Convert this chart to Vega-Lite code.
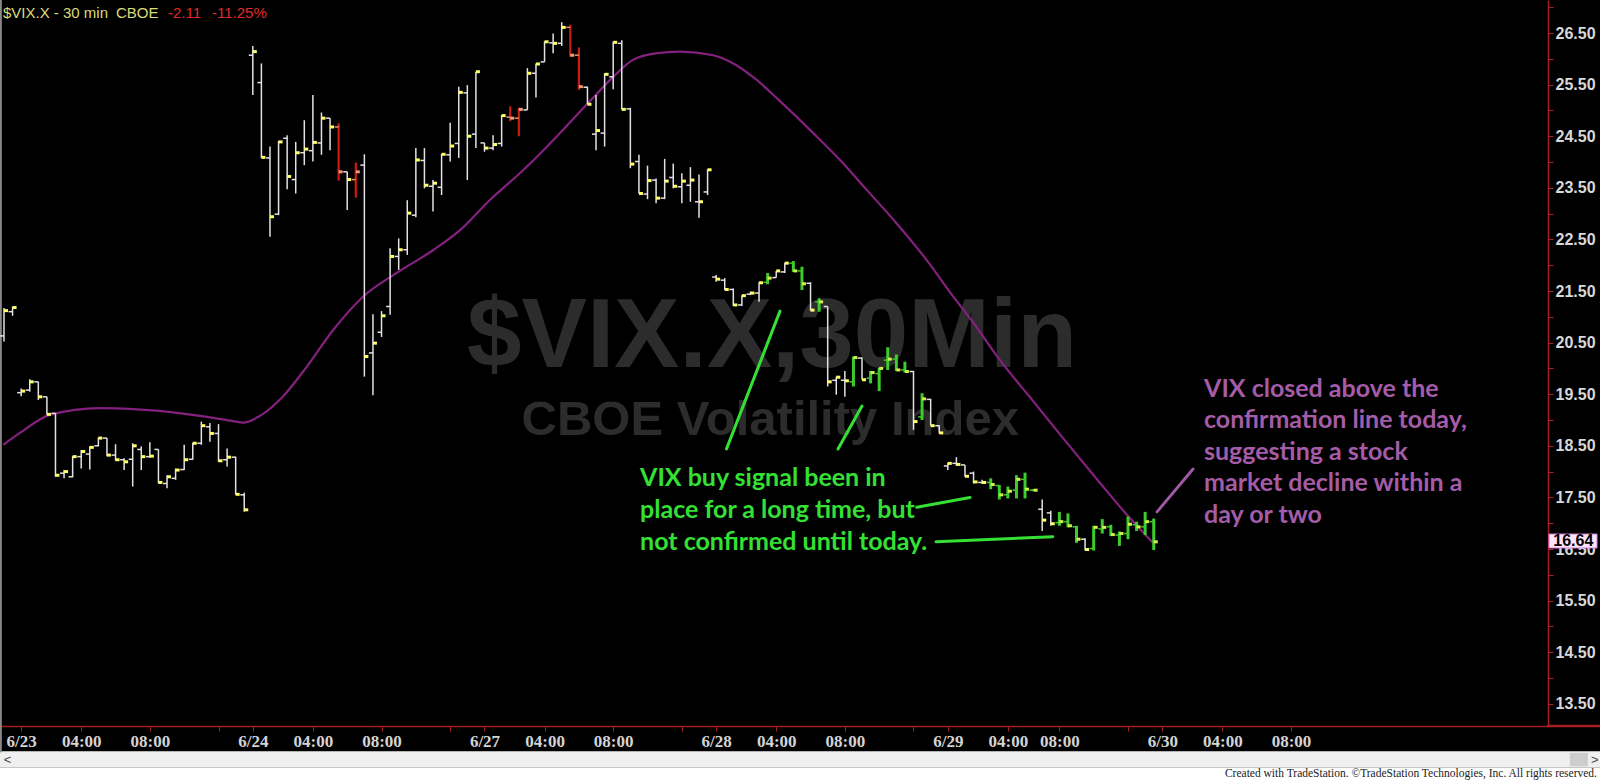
{
  "$schema": "https://vega.github.io/schema/vega-lite/v6.json",
  "width": 1548,
  "height": 726,
  "autosize": "none",
  "padding": {"left": 0, "top": 0, "right": 52, "bottom": 54},
  "background": "#000000",
  "config": {"view": {"stroke": null}},
  "datasets": {
    "bars": [
      {"i":1,"o":20.63,"h":21.17,"l":20.52,"c":21.12,"t":"n"},
      {"i":2,"o":21.10,"h":21.20,"l":21.02,"c":21.18,"t":"n"},
      {"i":3,"o":19.53,"h":19.61,"l":19.46,"c":19.56,"t":"n"},
      {"i":4,"o":19.58,"h":19.79,"l":19.55,"c":19.74,"t":"n"},
      {"i":5,"o":19.74,"h":19.74,"l":19.39,"c":19.45,"t":"n"},
      {"i":6,"o":19.45,"h":19.45,"l":19.10,"c":19.11,"t":"n"},
      {"i":7,"o":19.13,"h":19.13,"l":17.90,"c":17.93,"t":"n"},
      {"i":8,"o":17.97,"h":18.03,"l":17.87,"c":18.00,"t":"n"},
      {"i":9,"o":17.90,"h":18.30,"l":17.89,"c":18.29,"t":"n"},
      {"i":10,"o":18.29,"h":18.42,"l":18.06,"c":18.39,"t":"n"},
      {"i":11,"o":18.34,"h":18.49,"l":18.04,"c":18.47,"t":"n"},
      {"i":12,"o":18.50,"h":18.66,"l":18.49,"c":18.65,"t":"n"},
      {"i":13,"o":18.65,"h":18.65,"l":18.30,"c":18.32,"t":"n"},
      {"i":14,"o":18.32,"h":18.53,"l":18.21,"c":18.23,"t":"n"},
      {"i":15,"o":18.23,"h":18.26,"l":18.03,"c":18.19,"t":"n"},
      {"i":16,"o":18.24,"h":18.55,"l":17.71,"c":18.50,"t":"n"},
      {"i":17,"o":18.43,"h":18.49,"l":18.03,"c":18.29,"t":"n"},
      {"i":18,"o":18.29,"h":18.57,"l":18.27,"c":18.30,"t":"n"},
      {"i":19,"o":18.43,"h":18.43,"l":17.77,"c":17.79,"t":"n"},
      {"i":20,"o":17.77,"h":17.93,"l":17.68,"c":17.90,"t":"n"},
      {"i":21,"o":17.87,"h":18.06,"l":17.84,"c":18.03,"t":"n"},
      {"i":22,"o":18.04,"h":18.52,"l":18.03,"c":18.23,"t":"n"},
      {"i":23,"o":18.24,"h":18.56,"l":18.23,"c":18.55,"t":"n"},
      {"i":24,"o":18.55,"h":18.97,"l":18.52,"c":18.89,"t":"n"},
      {"i":25,"o":18.87,"h":18.94,"l":18.58,"c":18.74,"t":"n"},
      {"i":26,"o":18.74,"h":18.92,"l":18.19,"c":18.21,"t":"n"},
      {"i":27,"o":18.23,"h":18.45,"l":18.10,"c":18.28,"t":"n"},
      {"i":28,"o":18.28,"h":18.29,"l":17.55,"c":17.56,"t":"n"},
      {"i":29,"o":17.55,"h":17.59,"l":17.22,"c":17.26,"t":"n"},
      {"i":30,"o":26.07,"h":26.25,"l":25.30,"c":26.14,"t":"n"},
      {"i":31,"o":25.54,"h":25.91,"l":24.08,"c":24.09,"t":"n"},
      {"i":32,"o":24.08,"h":24.30,"l":22.55,"c":22.94,"t":"n"},
      {"i":33,"o":22.99,"h":24.41,"l":22.97,"c":24.39,"t":"n"},
      {"i":34,"o":24.46,"h":24.52,"l":23.47,"c":23.72,"t":"n"},
      {"i":35,"o":23.66,"h":24.39,"l":23.39,"c":24.18,"t":"n"},
      {"i":36,"o":24.18,"h":24.81,"l":23.94,"c":24.25,"t":"n"},
      {"i":37,"o":24.22,"h":25.30,"l":24.01,"c":24.38,"t":"n"},
      {"i":38,"o":24.37,"h":24.96,"l":24.14,"c":24.85,"t":"n"},
      {"i":39,"o":24.85,"h":24.85,"l":24.23,"c":24.68,"t":"n"},
      {"i":40,"o":24.68,"h":24.75,"l":23.64,"c":23.81,"t":"r"},
      {"i":41,"o":23.81,"h":23.81,"l":23.07,"c":23.66,"t":"n"},
      {"i":42,"o":23.66,"h":23.99,"l":23.31,"c":23.81,"t":"r"},
      {"i":43,"o":23.94,"h":24.15,"l":19.84,"c":20.23,"t":"n"},
      {"i":44,"o":20.30,"h":21.05,"l":19.48,"c":20.49,"t":"n"},
      {"i":45,"o":20.70,"h":21.11,"l":20.61,"c":21.02,"t":"n"},
      {"i":46,"o":21.20,"h":22.33,"l":21.04,"c":22.17,"t":"n"},
      {"i":47,"o":22.17,"h":22.52,"l":21.91,"c":22.30,"t":"n"},
      {"i":48,"o":22.30,"h":23.26,"l":22.20,"c":23.01,"t":"n"},
      {"i":49,"o":22.97,"h":24.27,"l":22.93,"c":24.04,"t":"n"},
      {"i":50,"o":24.03,"h":24.27,"l":23.49,"c":23.55,"t":"n"},
      {"i":51,"o":23.53,"h":23.65,"l":23.04,"c":23.59,"t":"n"},
      {"i":52,"o":23.51,"h":24.16,"l":23.36,"c":24.15,"t":"n"},
      {"i":53,"o":24.14,"h":24.76,"l":24.01,"c":24.31,"t":"n"},
      {"i":54,"o":24.36,"h":25.46,"l":24.08,"c":25.35,"t":"n"},
      {"i":55,"o":25.34,"h":25.49,"l":23.65,"c":24.50,"t":"n"},
      {"i":56,"o":24.54,"h":25.75,"l":24.27,"c":25.75,"t":"n"},
      {"i":57,"o":24.37,"h":24.37,"l":24.20,"c":24.27,"t":"n"},
      {"i":58,"o":24.27,"h":24.52,"l":24.23,"c":24.34,"t":"n"},
      {"i":59,"o":24.36,"h":24.91,"l":24.30,"c":24.90,"t":"n"},
      {"i":60,"o":24.87,"h":25.08,"l":24.79,"c":24.85,"t":"r"},
      {"i":61,"o":24.85,"h":25.05,"l":24.50,"c":25.02,"t":"r"},
      {"i":62,"o":25.01,"h":25.82,"l":25.01,"c":25.72,"t":"n"},
      {"i":63,"o":25.72,"h":25.91,"l":25.25,"c":25.90,"t":"n"},
      {"i":64,"o":25.94,"h":26.34,"l":25.94,"c":26.33,"t":"n"},
      {"i":65,"o":26.31,"h":26.49,"l":26.11,"c":26.30,"t":"n"},
      {"i":66,"o":26.30,"h":26.71,"l":26.25,"c":26.61,"t":"n"},
      {"i":67,"o":26.61,"h":26.66,"l":26.04,"c":26.07,"t":"r"},
      {"i":68,"o":26.07,"h":26.22,"l":25.40,"c":25.46,"t":"r"},
      {"i":69,"o":25.45,"h":25.46,"l":25.12,"c":25.12,"t":"n"},
      {"i":70,"o":24.54,"h":25.30,"l":24.23,"c":24.61,"t":"n"},
      {"i":71,"o":24.56,"h":25.72,"l":24.30,"c":25.70,"t":"n"},
      {"i":72,"o":25.65,"h":26.33,"l":25.41,"c":26.32,"t":"n"},
      {"i":73,"o":26.30,"h":26.36,"l":25.02,"c":25.02,"t":"n"},
      {"i":74,"o":25.03,"h":25.05,"l":23.88,"c":23.96,"t":"n"},
      {"i":75,"o":24.01,"h":24.14,"l":23.39,"c":23.39,"t":"n"},
      {"i":76,"o":23.38,"h":23.93,"l":23.28,"c":23.64,"t":"n"},
      {"i":77,"o":23.65,"h":23.68,"l":23.20,"c":23.30,"t":"n"},
      {"i":78,"o":23.30,"h":24.06,"l":23.28,"c":23.63,"t":"n"},
      {"i":79,"o":23.70,"h":23.97,"l":23.49,"c":23.53,"t":"n"},
      {"i":80,"o":23.52,"h":23.78,"l":23.20,"c":23.63,"t":"n"},
      {"i":81,"o":23.55,"h":23.90,"l":23.23,"c":23.65,"t":"n"},
      {"i":82,"o":23.23,"h":23.76,"l":22.92,"c":23.23,"t":"n"},
      {"i":83,"o":23.42,"h":23.86,"l":23.36,"c":23.85,"t":"n"},
      {"i":84,"o":21.77,"h":21.81,"l":21.68,"c":21.73,"t":"n"},
      {"i":85,"o":21.71,"h":21.75,"l":21.52,"c":21.53,"t":"n"},
      {"i":86,"o":21.53,"h":21.55,"l":21.21,"c":21.23,"t":"n"},
      {"i":87,"o":21.23,"h":21.42,"l":21.21,"c":21.41,"t":"n"},
      {"i":88,"o":21.44,"h":21.49,"l":21.42,"c":21.46,"t":"n"},
      {"i":89,"o":21.46,"h":21.67,"l":21.29,"c":21.66,"t":"n"},
      {"i":90,"o":21.67,"h":21.85,"l":21.63,"c":21.75,"t":"g"},
      {"i":91,"o":21.76,"h":21.89,"l":21.76,"c":21.89,"t":"n"},
      {"i":92,"o":21.87,"h":22.05,"l":21.85,"c":22.04,"t":"n"},
      {"i":93,"o":22.04,"h":22.08,"l":21.87,"c":21.89,"t":"g"},
      {"i":94,"o":21.89,"h":21.97,"l":21.52,"c":21.64,"t":"g"},
      {"i":95,"o":21.65,"h":21.67,"l":21.12,"c":21.13,"t":"n"},
      {"i":96,"o":21.29,"h":21.36,"l":21.10,"c":21.29,"t":"g"},
      {"i":97,"o":21.20,"h":21.20,"l":19.65,"c":19.74,"t":"n"},
      {"i":98,"o":19.77,"h":19.84,"l":19.49,"c":19.83,"t":"n"},
      {"i":99,"o":19.77,"h":19.95,"l":19.45,"c":19.76,"t":"n"},
      {"i":100,"o":19.74,"h":20.23,"l":19.65,"c":20.21,"t":"g"},
      {"i":101,"o":20.20,"h":20.21,"l":19.78,"c":19.78,"t":"n"},
      {"i":102,"o":19.81,"h":19.95,"l":19.71,"c":19.92,"t":"g"},
      {"i":103,"o":19.90,"h":20.01,"l":19.56,"c":20.00,"t":"g"},
      {"i":104,"o":20.16,"h":20.41,"l":19.97,"c":20.18,"t":"g"},
      {"i":105,"o":20.18,"h":20.27,"l":19.95,"c":19.97,"t":"g"},
      {"i":106,"o":19.97,"h":20.13,"l":19.92,"c":19.94,"t":"g"},
      {"i":107,"o":19.94,"h":19.95,"l":18.81,"c":18.97,"t":"n"},
      {"i":108,"o":19.06,"h":19.52,"l":19.00,"c":19.41,"t":"g"},
      {"i":109,"o":19.40,"h":19.41,"l":18.89,"c":18.89,"t":"n"},
      {"i":110,"o":18.89,"h":18.90,"l":18.74,"c":18.75,"t":"n"},
      {"i":111,"o":18.11,"h":18.17,"l":18.03,"c":18.16,"t":"n"},
      {"i":112,"o":18.16,"h":18.28,"l":18.11,"c":18.14,"t":"n"},
      {"i":113,"o":18.13,"h":18.13,"l":17.90,"c":17.91,"t":"n"},
      {"i":114,"o":17.97,"h":18.00,"l":17.77,"c":17.80,"t":"n"},
      {"i":115,"o":17.79,"h":17.84,"l":17.76,"c":17.79,"t":"n"},
      {"i":116,"o":17.79,"h":17.87,"l":17.66,"c":17.75,"t":"g"},
      {"i":117,"o":17.73,"h":17.74,"l":17.46,"c":17.55,"t":"g"},
      {"i":118,"o":17.55,"h":17.71,"l":17.48,"c":17.62,"t":"g"},
      {"i":119,"o":17.64,"h":17.93,"l":17.48,"c":17.85,"t":"g"},
      {"i":120,"o":17.85,"h":17.98,"l":17.48,"c":17.66,"t":"g"},
      {"i":121,"o":17.64,"h":17.66,"l":17.62,"c":17.64,"t":"g"},
      {"i":122,"o":17.27,"h":17.46,"l":16.85,"c":17.06,"t":"n"},
      {"i":123,"o":17.20,"h":17.24,"l":16.95,"c":16.99,"t":"n"},
      {"i":124,"o":17.01,"h":17.22,"l":16.95,"c":17.03,"t":"g"},
      {"i":125,"o":17.03,"h":17.19,"l":16.92,"c":16.95,"t":"g"},
      {"i":126,"o":16.93,"h":16.95,"l":16.62,"c":16.69,"t":"g"},
      {"i":127,"o":16.69,"h":16.71,"l":16.47,"c":16.49,"t":"n"},
      {"i":128,"o":16.51,"h":16.95,"l":16.47,"c":16.92,"t":"g"},
      {"i":129,"o":16.89,"h":17.08,"l":16.80,"c":16.92,"t":"g"},
      {"i":130,"o":16.93,"h":16.97,"l":16.75,"c":16.78,"t":"g"},
      {"i":131,"o":16.77,"h":16.84,"l":16.56,"c":16.80,"t":"g"},
      {"i":132,"o":16.80,"h":17.13,"l":16.69,"c":16.98,"t":"g"},
      {"i":133,"o":16.97,"h":17.03,"l":16.85,"c":16.93,"t":"g"},
      {"i":134,"o":16.93,"h":17.22,"l":16.77,"c":17.03,"t":"g"},
      {"i":135,"o":17.03,"h":17.09,"l":16.48,"c":16.64,"t":"g"}
    ],
    "ma": [
      {"i":0.92,"v":18.52},{"i":2.86,"v":18.75},{"i":6.36,"v":19.10},{"i":12.19,"v":19.23},
      {"i":16.03,"v":19.21},{"i":21.16,"v":19.14},{"i":23.84,"v":19.08},{"i":27.69,"v":18.98},
      {"i":28.86,"v":18.95},{"i":30.84,"v":19.08},{"i":33.37,"v":19.43},{"i":36.28,"v":20.03},
      {"i":39.34,"v":20.74},{"i":42.84,"v":21.39},{"i":46.77,"v":21.85},{"i":51.0,"v":22.29},
      {"i":54.15,"v":22.68},{"i":57.6,"v":23.26},{"i":61.5,"v":23.84},{"i":65.4,"v":24.49},
      {"i":69.4,"v":25.20},{"i":72.0,"v":25.65},{"i":74.3,"v":25.98},{"i":77.1,"v":26.11},
      {"i":79.79,"v":26.14},{"i":83.67,"v":26.07},{"i":86.0,"v":25.91},{"i":88.73,"v":25.59},
      {"i":91.44,"v":25.18},{"i":95.32,"v":24.56},{"i":98.44,"v":24.04},{"i":101.55,"v":23.46},
      {"i":105.04,"v":22.81},{"i":108.54,"v":22.10},{"i":111.64,"v":21.39},{"i":114.0,"v":20.88},
      {"i":117.08,"v":20.16},{"i":120.58,"v":19.44},{"i":124.43,"v":18.65},
      {"i":128.74,"v":17.78},{"i":131.89,"v":17.16},{"i":134.92,"v":16.62}
    ],
    "seg": [
      {"i":85.21,"v":18.44,"i2":91.44,"v2":21.11,"k":"g"},
      {"i":98.2,"v":18.44,"i2":101.0,"v2":19.27,"k":"g"},
      {"i":107.38,"v":17.31,"i2":113.59,"v2":17.50,"k":"g"},
      {"i":109.62,"v":16.64,"i2":123.23,"v2":16.74,"k":"g"},
      {"i":135.38,"v":17.22,"i2":139.58,"v2":18.05,"k":"p"},
      {"i":180.95,"v":13.07,"i2":187.5,"v2":13.07,"k":"r"},
      {"i":0.6,"v":12.58,"i2":0.6,"v2":27.14,"k":"b"}
    ],
    "band": [
      {"i":-2,"v":12.26,"i2":190,"v2":12.58,"k":"s"},
      {"i":-2,"v":11.9,"i2":190,"v2":12.26,"k":"w"},
      {"i":183.5,"v":12.29,"i2":185.6,"v2":12.55,"k":"t"}
    ],
    "box": [
      {"i":181.07,"v":16.52,"i2":186.66,"v2":16.79}
    ]
  },
  "encoding": {
    "x": {
      "field": "i",
      "type": "quantitative",
      "scale": {"domain": [0.534, 180.95], "nice": false, "zero": false},
      "axis": {
        "values": [3,10,18,26,30,37,45,53,57,64,72,80,84,91,99,107,111,118,124,132,136,143,151],
        "labelExpr": "['6/23','04:00','08:00','','6/24','04:00','08:00','','6/27','04:00','08:00','','6/28','04:00','08:00','','6/29','04:00','08:00','','6/30','04:00','08:00'][indexof([3,10,18,26,30,37,45,53,57,64,72,80,84,91,99,107,111,118,124,132,136,143,151], datum.value)]",
        "title": null,
        "grid": false,
        "domainColor": "#a81e1e",
        "domainWidth": 1.5,
        "tickColor": "#a81e1e",
        "tickSize": 5,
        "labelColor": "#d4d4d4",
        "labelFont": "Liberation Sans Narrow",
        "labelFontSize": 17,
        "labelFontWeight": "bold",
        "labelPadding": 2,
        "labelFlush": false,
        "labelOverlap": false
      }
    }
  },
  "resolve": {"scale": {"color": "independent", "strokeWidth": "independent"}},
  "layer": [
    {
      "data": {"name": "band"},
      "mark": {"type": "rect"},
      "encoding": {
        "x2": {"field": "i2"},
        "y": {"field": "v", "type": "quantitative", "scale": {"domain": [13.07, 27.14], "nice": false, "zero": false},
          "axis": {"orient": "right", "values": [13.5,14,14.5,15,15.5,16,16.5,17,17.5,18,18.5,19,19.5,20,20.5,21,21.5,22,22.5,23,23.5,24,24.5,25,25.5,26,26.5,27], "labelExpr": "indexof([13.5,14.5,15.5,16.5,17.5,18.5,19.5,20.5,21.5,22.5,23.5,24.5,25.5,26.5], datum.value) >= 0 ? format(datum.value, '.2f') : ''", "title": null, "grid": false, "domainColor": "#a81e1e", "domainWidth": 1.5, "tickColor": "#a81e1e", "tickSize": 5, "labelColor": "#d8d8d8", "labelFont": "Liberation Sans", "labelFontSize": 16, "labelFontWeight": "bold", "labelPadding": 2, "labelFlush": false, "labelOverlap": false}},
        "y2": {"field": "v2"},
        "color": {"field": "k", "type": "nominal", "scale": {"domain": ["s","w","t"], "range": ["#efefef","#ffffff","#cdcdcd"]}, "legend": null}
      }
    },
    {
      "data": {"values": [{"i":90.51,"v":20.03,"s":"$VIX.X,30Min"}]},
      "mark": {"type": "text", "align": "center", "baseline": "alphabetic", "font": "Liberation Sans", "fontSize": 98, "fontWeight": "bold", "color": "#2c2c2c"},
      "encoding": {
        "y": {"field": "v", "type": "quantitative", "scale": {"domain": [13.07, 27.14], "nice": false, "zero": false},
          "axis": {"orient": "right", "values": [13.5,14,14.5,15,15.5,16,16.5,17,17.5,18,18.5,19,19.5,20,20.5,21,21.5,22,22.5,23,23.5,24,24.5,25,25.5,26,26.5,27], "labelExpr": "indexof([13.5,14.5,15.5,16.5,17.5,18.5,19.5,20.5,21.5,22.5,23.5,24.5,25.5,26.5], datum.value) >= 0 ? format(datum.value, '.2f') : ''", "title": null, "grid": false, "domainColor": "#a81e1e", "domainWidth": 1.5, "tickColor": "#a81e1e", "tickSize": 5, "labelColor": "#d8d8d8", "labelFont": "Liberation Sans", "labelFontSize": 16, "labelFontWeight": "bold", "labelPadding": 2, "labelFlush": false, "labelOverlap": false}},
        "text": {"field": "s"}
      }
    },
    {
      "data": {"values": [{"i":90.3,"v":18.71,"s":"CBOE Volatility Index"}]},
      "mark": {"type": "text", "align": "center", "baseline": "alphabetic", "font": "Liberation Sans", "fontSize": 49, "fontWeight": "bold", "color": "#2c2c2c"},
      "encoding": {
        "y": {"field": "v", "type": "quantitative", "scale": {"domain": [13.07, 27.14], "nice": false, "zero": false},
          "axis": {"orient": "right", "values": [13.5,14,14.5,15,15.5,16,16.5,17,17.5,18,18.5,19,19.5,20,20.5,21,21.5,22,22.5,23,23.5,24,24.5,25,25.5,26,26.5,27], "labelExpr": "indexof([13.5,14.5,15.5,16.5,17.5,18.5,19.5,20.5,21.5,22.5,23.5,24.5,25.5,26.5], datum.value) >= 0 ? format(datum.value, '.2f') : ''", "title": null, "grid": false, "domainColor": "#a81e1e", "domainWidth": 1.5, "tickColor": "#a81e1e", "tickSize": 5, "labelColor": "#d8d8d8", "labelFont": "Liberation Sans", "labelFontSize": 16, "labelFontWeight": "bold", "labelPadding": 2, "labelFlush": false, "labelOverlap": false}},
        "text": {"field": "s"}
      }
    },
    {
      "data": {"name": "ma"},
      "mark": {"type": "line", "color": "#84207f", "strokeWidth": 2.2, "interpolate": "monotone"},
      "encoding": {
        "y": {"field": "v", "type": "quantitative", "scale": {"domain": [13.07, 27.14], "nice": false, "zero": false},
          "axis": {"orient": "right", "values": [13.5,14,14.5,15,15.5,16,16.5,17,17.5,18,18.5,19,19.5,20,20.5,21,21.5,22,22.5,23,23.5,24,24.5,25,25.5,26,26.5,27], "labelExpr": "indexof([13.5,14.5,15.5,16.5,17.5,18.5,19.5,20.5,21.5,22.5,23.5,24.5,25.5,26.5], datum.value) >= 0 ? format(datum.value, '.2f') : ''", "title": null, "grid": false, "domainColor": "#a81e1e", "domainWidth": 1.5, "tickColor": "#a81e1e", "tickSize": 5, "labelColor": "#d8d8d8", "labelFont": "Liberation Sans", "labelFontSize": 16, "labelFontWeight": "bold", "labelPadding": 2, "labelFlush": false, "labelOverlap": false}}
      }
    },
    {
      "data": {"name": "seg"},
      "mark": {"type": "rule", "strokeCap": "round"},
      "encoding": {
        "x2": {"field": "i2"},
        "y": {"field": "v", "type": "quantitative", "scale": {"domain": [13.07, 27.14], "nice": false, "zero": false},
          "axis": {"orient": "right", "values": [13.5,14,14.5,15,15.5,16,16.5,17,17.5,18,18.5,19,19.5,20,20.5,21,21.5,22,22.5,23,23.5,24,24.5,25,25.5,26,26.5,27], "labelExpr": "indexof([13.5,14.5,15.5,16.5,17.5,18.5,19.5,20.5,21.5,22.5,23.5,24.5,25.5,26.5], datum.value) >= 0 ? format(datum.value, '.2f') : ''", "title": null, "grid": false, "domainColor": "#a81e1e", "domainWidth": 1.5, "tickColor": "#a81e1e", "tickSize": 5, "labelColor": "#d8d8d8", "labelFont": "Liberation Sans", "labelFontSize": 16, "labelFontWeight": "bold", "labelPadding": 2, "labelFlush": false, "labelOverlap": false}},
        "y2": {"field": "v2"},
        "color": {"field": "k", "type": "nominal", "scale": {"domain": ["g","p","r","b"], "range": ["#35e035","#a05aa6","#a81e1e","#8a8a8a"]}, "legend": null},
        "strokeWidth": {"field": "k", "type": "nominal", "scale": {"domain": ["g","p","r","b"], "range": [3,2.5,1.5,2]}, "legend": null}
      }
    },
    {
      "data": {"name": "bars"},
      "mark": {"type": "rule"},
      "encoding": {
        "y": {"field": "l", "type": "quantitative", "scale": {"domain": [13.07, 27.14], "nice": false, "zero": false},
          "axis": {"orient": "right", "values": [13.5,14,14.5,15,15.5,16,16.5,17,17.5,18,18.5,19,19.5,20,20.5,21,21.5,22,22.5,23,23.5,24,24.5,25,25.5,26,26.5,27], "labelExpr": "indexof([13.5,14.5,15.5,16.5,17.5,18.5,19.5,20.5,21.5,22.5,23.5,24.5,25.5,26.5], datum.value) >= 0 ? format(datum.value, '.2f') : ''", "title": null, "grid": false, "domainColor": "#a81e1e", "domainWidth": 1.5, "tickColor": "#a81e1e", "tickSize": 5, "labelColor": "#d8d8d8", "labelFont": "Liberation Sans", "labelFontSize": 16, "labelFontWeight": "bold", "labelPadding": 2, "labelFlush": false, "labelOverlap": false}},
        "y2": {"field": "h"},
        "color": {"field": "t", "type": "nominal", "scale": {"domain": ["n","r","g"], "range": ["#e2e2e2","#cc1a12","#3ccc2c"]}, "legend": null},
        "strokeWidth": {"field": "t", "type": "nominal", "scale": {"domain": ["n","r","g"], "range": [1.5,3,2.5]}, "legend": null}
      }
    },
    {
      "data": {"name": "bars"},
      "mark": {"type": "rule", "xOffset": -4, "x2Offset": 0, "strokeWidth": 1.5},
      "encoding": {
        "x2": {"field": "i"},
        "y": {"field": "o", "type": "quantitative", "scale": {"domain": [13.07, 27.14], "nice": false, "zero": false},
          "axis": {"orient": "right", "values": [13.5,14,14.5,15,15.5,16,16.5,17,17.5,18,18.5,19,19.5,20,20.5,21,21.5,22,22.5,23,23.5,24,24.5,25,25.5,26,26.5,27], "labelExpr": "indexof([13.5,14.5,15.5,16.5,17.5,18.5,19.5,20.5,21.5,22.5,23.5,24.5,25.5,26.5], datum.value) >= 0 ? format(datum.value, '.2f') : ''", "title": null, "grid": false, "domainColor": "#a81e1e", "domainWidth": 1.5, "tickColor": "#a81e1e", "tickSize": 5, "labelColor": "#d8d8d8", "labelFont": "Liberation Sans", "labelFontSize": 16, "labelFontWeight": "bold", "labelPadding": 2, "labelFlush": false, "labelOverlap": false}},
        "color": {"field": "t", "type": "nominal", "scale": {"domain": ["n","r","g"], "range": ["#e2e2e2","#e8906c","#3ccc2c"]}, "legend": null}
      }
    },
    {
      "data": {"name": "bars"},
      "mark": {"type": "rule", "xOffset": 0, "x2Offset": 4, "strokeWidth": 3},
      "encoding": {
        "x2": {"field": "i"},
        "y": {"field": "c", "type": "quantitative", "scale": {"domain": [13.07, 27.14], "nice": false, "zero": false},
          "axis": {"orient": "right", "values": [13.5,14,14.5,15,15.5,16,16.5,17,17.5,18,18.5,19,19.5,20,20.5,21,21.5,22,22.5,23,23.5,24,24.5,25,25.5,26,26.5,27], "labelExpr": "indexof([13.5,14.5,15.5,16.5,17.5,18.5,19.5,20.5,21.5,22.5,23.5,24.5,25.5,26.5], datum.value) >= 0 ? format(datum.value, '.2f') : ''", "title": null, "grid": false, "domainColor": "#a81e1e", "domainWidth": 1.5, "tickColor": "#a81e1e", "tickSize": 5, "labelColor": "#d8d8d8", "labelFont": "Liberation Sans", "labelFontSize": 16, "labelFontWeight": "bold", "labelPadding": 2, "labelFlush": false, "labelOverlap": false}},
        "color": {"field": "t", "type": "nominal", "scale": {"domain": ["n","r","g"], "range": ["#ffff6a","#f09a78","#d4f04c"]}, "legend": null}
      }
    },
    {
      "data": {"values": [
        {"i":0.883,"v":26.80,"s":"$VIX.X - 30 min","k":"y"},
        {"i":14.05,"v":26.80,"s":"CBOE","k":"y"},
        {"i":20.11,"v":26.80,"s":"-2.11","k":"r"},
        {"i":25.24,"v":26.80,"s":"-11.25%","k":"r"}
      ]},
      "mark": {"type": "text", "align": "left", "baseline": "alphabetic", "font": "Liberation Sans", "fontSize": 15},
      "encoding": {
        "y": {"field": "v", "type": "quantitative", "scale": {"domain": [13.07, 27.14], "nice": false, "zero": false},
          "axis": {"orient": "right", "values": [13.5,14,14.5,15,15.5,16,16.5,17,17.5,18,18.5,19,19.5,20,20.5,21,21.5,22,22.5,23,23.5,24,24.5,25,25.5,26,26.5,27], "labelExpr": "indexof([13.5,14.5,15.5,16.5,17.5,18.5,19.5,20.5,21.5,22.5,23.5,24.5,25.5,26.5], datum.value) >= 0 ? format(datum.value, '.2f') : ''", "title": null, "grid": false, "domainColor": "#a81e1e", "domainWidth": 1.5, "tickColor": "#a81e1e", "tickSize": 5, "labelColor": "#d8d8d8", "labelFont": "Liberation Sans", "labelFontSize": 16, "labelFontWeight": "bold", "labelPadding": 2, "labelFlush": false, "labelOverlap": false}},
        "text": {"field": "s"},
        "color": {"field": "k", "type": "nominal", "scale": {"domain": ["y","r"], "range": ["#dcdc78","#e02a2a"]}, "legend": null}
      }
    },
    {
      "data": {"values": [{"i":75.13,"v":17.72,"s":"VIX buy signal been in\nplace for a long time, but\nnot confirmed until today."}]},
      "mark": {"type": "text", "align": "left", "baseline": "alphabetic", "font": "Lato", "fontSize": 25, "fontWeight": "bold", "color": "#35e035", "lineBreak": "\n", "lineHeight": 32},
      "encoding": {
        "y": {"field": "v", "type": "quantitative", "scale": {"domain": [13.07, 27.14], "nice": false, "zero": false},
          "axis": {"orient": "right", "values": [13.5,14,14.5,15,15.5,16,16.5,17,17.5,18,18.5,19,19.5,20,20.5,21,21.5,22,22.5,23,23.5,24,24.5,25,25.5,26,26.5,27], "labelExpr": "indexof([13.5,14.5,15.5,16.5,17.5,18.5,19.5,20.5,21.5,22.5,23.5,24.5,25.5,26.5], datum.value) >= 0 ? format(datum.value, '.2f') : ''", "title": null, "grid": false, "domainColor": "#a81e1e", "domainWidth": 1.5, "tickColor": "#a81e1e", "tickSize": 5, "labelColor": "#d8d8d8", "labelFont": "Liberation Sans", "labelFontSize": 16, "labelFontWeight": "bold", "labelPadding": 2, "labelFlush": false, "labelOverlap": false}},
        "text": {"field": "s"}
      }
    },
    {
      "data": {"values": [{"i":140.86,"v":19.45,"s":"VIX closed above the\nconfirmation line today,\nsuggesting a stock\nmarket decline within a\nday or two"}]},
      "mark": {"type": "text", "align": "left", "baseline": "alphabetic", "font": "Lato", "fontSize": 25, "fontWeight": "bold", "color": "#a45ca8", "lineBreak": "\n", "lineHeight": 31.5},
      "encoding": {
        "y": {"field": "v", "type": "quantitative", "scale": {"domain": [13.07, 27.14], "nice": false, "zero": false},
          "axis": {"orient": "right", "values": [13.5,14,14.5,15,15.5,16,16.5,17,17.5,18,18.5,19,19.5,20,20.5,21,21.5,22,22.5,23,23.5,24,24.5,25,25.5,26,26.5,27], "labelExpr": "indexof([13.5,14.5,15.5,16.5,17.5,18.5,19.5,20.5,21.5,22.5,23.5,24.5,25.5,26.5], datum.value) >= 0 ? format(datum.value, '.2f') : ''", "title": null, "grid": false, "domainColor": "#a81e1e", "domainWidth": 1.5, "tickColor": "#a81e1e", "tickSize": 5, "labelColor": "#d8d8d8", "labelFont": "Liberation Sans", "labelFontSize": 16, "labelFontWeight": "bold", "labelPadding": 2, "labelFlush": false, "labelOverlap": false}},
        "text": {"field": "s"}
      }
    },
    {
      "data": {"name": "box"},
      "mark": {"type": "rect", "fill": "#fde4fd", "stroke": "#d880d8", "strokeWidth": 1},
      "encoding": {
        "x2": {"field": "i2"},
        "y": {"field": "v", "type": "quantitative", "scale": {"domain": [13.07, 27.14], "nice": false, "zero": false},
          "axis": {"orient": "right", "values": [13.5,14,14.5,15,15.5,16,16.5,17,17.5,18,18.5,19,19.5,20,20.5,21,21.5,22,22.5,23,23.5,24,24.5,25,25.5,26,26.5,27], "labelExpr": "indexof([13.5,14.5,15.5,16.5,17.5,18.5,19.5,20.5,21.5,22.5,23.5,24.5,25.5,26.5], datum.value) >= 0 ? format(datum.value, '.2f') : ''", "title": null, "grid": false, "domainColor": "#a81e1e", "domainWidth": 1.5, "tickColor": "#a81e1e", "tickSize": 5, "labelColor": "#d8d8d8", "labelFont": "Liberation Sans", "labelFontSize": 16, "labelFontWeight": "bold", "labelPadding": 2, "labelFlush": false, "labelOverlap": false}},
        "y2": {"field": "v2"}
      }
    },
    {
      "data": {"values": [{"i":183.9,"v":16.655,"s":"16.64"}]},
      "mark": {"type": "text", "align": "center", "baseline": "middle", "font": "Liberation Sans", "fontSize": 16, "fontWeight": "bold", "color": "#000000"},
      "encoding": {
        "y": {"field": "v", "type": "quantitative", "scale": {"domain": [13.07, 27.14], "nice": false, "zero": false},
          "axis": {"orient": "right", "values": [13.5,14,14.5,15,15.5,16,16.5,17,17.5,18,18.5,19,19.5,20,20.5,21,21.5,22,22.5,23,23.5,24,24.5,25,25.5,26,26.5,27], "labelExpr": "indexof([13.5,14.5,15.5,16.5,17.5,18.5,19.5,20.5,21.5,22.5,23.5,24.5,25.5,26.5], datum.value) >= 0 ? format(datum.value, '.2f') : ''", "title": null, "grid": false, "domainColor": "#a81e1e", "domainWidth": 1.5, "tickColor": "#a81e1e", "tickSize": 5, "labelColor": "#d8d8d8", "labelFont": "Liberation Sans", "labelFontSize": 16, "labelFontWeight": "bold", "labelPadding": 2, "labelFlush": false, "labelOverlap": false}},
        "text": {"field": "s"}
      }
    },
    {
      "data": {"values": [
        {"i":186.66,"v":12.08,"s":"Created with TradeStation. ©TradeStation Technologies, Inc. All rights reserved."}
      ]},
      "mark": {"type": "text", "align": "right", "baseline": "alphabetic", "font": "Liberation Sans Narrow", "fontSize": 11.5, "color": "#222222"},
      "encoding": {
        "y": {"field": "v", "type": "quantitative", "scale": {"domain": [13.07, 27.14], "nice": false, "zero": false},
          "axis": {"orient": "right", "values": [13.5,14,14.5,15,15.5,16,16.5,17,17.5,18,18.5,19,19.5,20,20.5,21,21.5,22,22.5,23,23.5,24,24.5,25,25.5,26,26.5,27], "labelExpr": "indexof([13.5,14.5,15.5,16.5,17.5,18.5,19.5,20.5,21.5,22.5,23.5,24.5,25.5,26.5], datum.value) >= 0 ? format(datum.value, '.2f') : ''", "title": null, "grid": false, "domainColor": "#a81e1e", "domainWidth": 1.5, "tickColor": "#a81e1e", "tickSize": 5, "labelColor": "#d8d8d8", "labelFont": "Liberation Sans", "labelFontSize": 16, "labelFontWeight": "bold", "labelPadding": 2, "labelFlush": false, "labelOverlap": false}},
        "text": {"field": "s"}
      }
    },
    {
      "data": {"values": [
        {"i":1.4,"v":12.33,"s":"<"},
        {"i":186.4,"v":12.33,"s":">"}
      ]},
      "mark": {"type": "text", "align": "center", "baseline": "alphabetic", "font": "Liberation Sans", "fontSize": 13, "color": "#444444"},
      "encoding": {
        "y": {"field": "v", "type": "quantitative", "scale": {"domain": [13.07, 27.14], "nice": false, "zero": false},
          "axis": {"orient": "right", "values": [13.5,14,14.5,15,15.5,16,16.5,17,17.5,18,18.5,19,19.5,20,20.5,21,21.5,22,22.5,23,23.5,24,24.5,25,25.5,26,26.5,27], "labelExpr": "indexof([13.5,14.5,15.5,16.5,17.5,18.5,19.5,20.5,21.5,22.5,23.5,24.5,25.5,26.5], datum.value) >= 0 ? format(datum.value, '.2f') : ''", "title": null, "grid": false, "domainColor": "#a81e1e", "domainWidth": 1.5, "tickColor": "#a81e1e", "tickSize": 5, "labelColor": "#d8d8d8", "labelFont": "Liberation Sans", "labelFontSize": 16, "labelFontWeight": "bold", "labelPadding": 2, "labelFlush": false, "labelOverlap": false}},
        "text": {"field": "s"}
      }
    }
  ]
}
